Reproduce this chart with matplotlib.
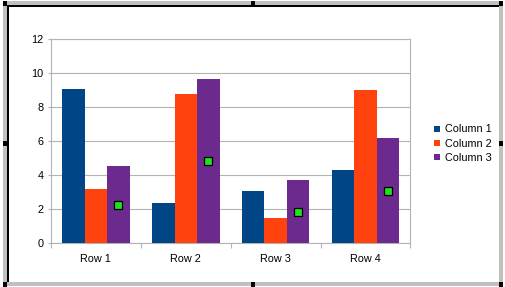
import matplotlib
matplotlib.use("Agg")
import matplotlib.pyplot as plt
import numpy as np
from matplotlib.patches import Rectangle
from matplotlib.transforms import IdentityTransform

categories = ['Row 1', 'Row 2', 'Row 3', 'Row 4']
series_names = ['Column 1', 'Column 2', 'Column 3']
col1 = [9.1, 2.4, 3.1, 4.3]
col2 = [3.2, 8.8, 1.5, 9.02]
col3 = [4.54, 9.65, 3.7, 6.2]
points = [2.27, 4.83, 1.85, 3.1]
y_ticks = [0, 2, 4, 6, 8, 10, 12]

colors = ['#004586', '#ff420e', '#6c2a8f']

plt.rcParams['font.family'] = ['Liberation Sans', 'DejaVu Sans']

W, H = 506, 287
fig = plt.figure(figsize=(W / 100, H / 100), dpi=100)
fig.patch.set_facecolor('white')

ax = fig.add_axes([51 / W, 1 - 243.3 / H, 359.5 / W, 204 / H])

x = np.arange(len(categories)) + 0.5
bw = 0.25
for i, (vals, name) in enumerate(zip([col1, col2, col3], series_names)):
    ax.bar(x + (i - 1) * bw, vals, width=bw, color=colors[i], label=name,
           zorder=3, linewidth=0)
ax.scatter(x + bw, points, marker='s', s=26, facecolor='#22e022',
           edgecolor='black', linewidth=0.9, zorder=4)

ax.set_xlim(0, 4)
ax.set_ylim(0, 12)
ax.set_yticks(y_ticks)
ax.set_yticklabels([str(v) for v in y_ticks])
ax.set_xticks(x)
ax.set_xticklabels(categories)
ax.set_xticks(np.arange(0, 5), minor=True)
ax.tick_params(axis='x', which='major', length=0, pad=7.5, labelsize=7.8)
ax.tick_params(axis='x', which='minor', length=3.6, width=0.8, color='#b3b3b3', direction='out')
ax.tick_params(axis='y', length=2.5, width=0.8, color='#b3b3b3', pad=3, labelsize=7.8)
ax.grid(axis='y', color='#b3b3b3', linewidth=0.8, zorder=0)
for s in ax.spines.values():
    s.set_color('#b3b3b3')
    s.set_linewidth(0.8)

leg = ax.legend(loc='upper left', bbox_to_anchor=(434.5 / W, 1 - 124.5 / H),
                bbox_transform=fig.transFigure, frameon=False, fontsize=7.8,
                handlelength=0.5, handleheight=0.5, handletextpad=0.45,
                labelspacing=0.38, borderpad=0, borderaxespad=0)

# selection frame
def rect(x0, y0, w, h, c):
    fig.add_artist(Rectangle((x0, H - y0 - h), w, h, transform=IdentityTransform(),
                             facecolor=c, edgecolor='none', zorder=10))

gray = '#c0c0c0'
rect(3, 1, 500, 4, gray)      # top
rect(3, 1, 4, 285, gray)      # left
rect(499, 1, 4, 285, gray)    # right
rect(3, 282, 500, 4, gray)    # bottom
rect(7, 5, 492, 1.5, 'black')  # inner top shadow
rect(7, 5, 1.5, 277, 'black')  # inner left shadow
for (hx, hy) in [(3, 1), (251, 1), (499, 1), (3, 141), (499, 141),
                 (3, 282), (251, 282), (499, 282)]:
    rect(hx, hy, 4, 4.5, 'black')

fig.savefig('out.png', dpi=100, facecolor='white')
